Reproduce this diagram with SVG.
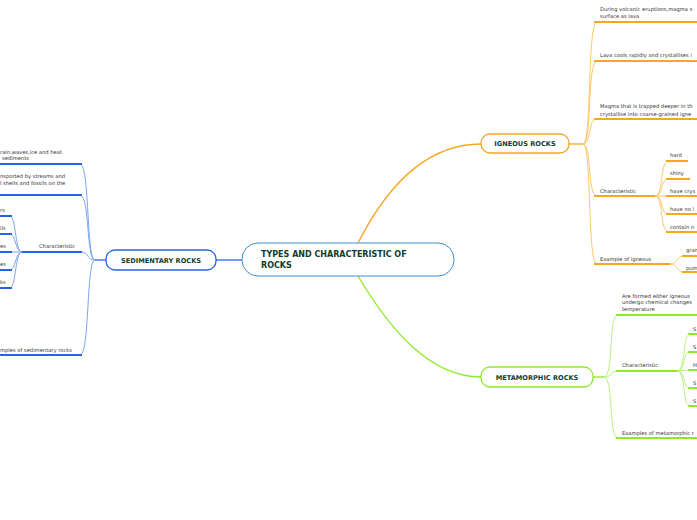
<svg xmlns="http://www.w3.org/2000/svg" width="697" height="520" viewBox="0 0 697 520">
<style>
text{font-family:"DejaVu Sans",Verdana,sans-serif;font-size:5.2px;fill:#333}
.t{font-size:8px;font-weight:bold;fill:#0b3d2e}
.c{font-size:6.6px;font-weight:bold;fill:#0b3d2e}
.o{stroke:#f5a623;fill:none;stroke-width:1.3}
.g{stroke:#8ee82e;fill:none;stroke-width:1.3}
.b{stroke:#2563eb;fill:none;stroke-width:1.3}
.ol{stroke:#f5a623;stroke-width:2}
.gl{stroke:#8ee82e;stroke-width:2}
.bl{stroke:#2563eb;stroke-width:2}
.oc{stroke:#fcc86a;fill:none;stroke-width:1}
.gc{stroke:#b8f27a;fill:none;stroke-width:1}
.bc{stroke:#7ea4f5;fill:none;stroke-width:1}
</style>
<g id="connectors">
<path class="o" d="M358,243 C390,180 430,144 481,144"/>
<path class="g" d="M358,276 C390,330 430,377 481,377"/>
<path class="b" d="M216,260 L242,260"/>
<path class="o" d="M569,144 L583,144"/>
<path class="oc" d="M583,144 C592,144 587,22 597,22 M583,144 C592,144 587,61 597,61 M583,144 C592,144 587,119 597,119 M583,144 C592,144 587,196 597,196 M583,144 C592,144 587,264 597,264"/>
<path class="oc" d="M655,196 C664,196 659,161 669,161 M655,196 C664,196 659,179 669,179 M655,196 L669,196 M655,196 C664,196 659,214 669,214 M655,196 C664,196 659,232 669,232 M670,264 C678,264 676,256 684,256 M670,264 C678,264 676,272 684,272"/>
<g class="ol"><path d="M594,22H697M594,61H697M594,119H697M594,196H655M594,264H670M666,161H688M666,179H690M666,196H697M666,214H697M666,232H697M682,256H697M682,272H697"/></g>
<path class="g" d="M593,377 L604,377"/>
<path class="gc" d="M604,377 C614,377 608,315 618,315 M604,377 C614,377 608,371 618,371 M604,377 C614,377 608,438 618,438"/>
<path class="gc" d="M677,371 C686,371 682,334 690,334 M677,371 C686,371 682,352 690,352 M677,371 L690,370 M677,371 C686,371 682,388 690,388 M677,371 C686,371 682,406 690,406"/>
<g class="gl"><path d="M616,315H697M616,371H677M616,438H697M688,334H697M688,352H697M688,370H697M688,388H697M688,406H697"/></g>
<path class="b" d="M106,260 L95,260"/>
<path class="bc" d="M95,260 C86,260 90,164 80,164 M95,260 C86,260 90,195 80,195 M95,260 C86,260 90,252 80,252 M95,260 C86,260 90,355 80,355"/>
<path class="bc" d="M22,252 C15,252 16,216 10,216 M22,252 C15,252 16,234 10,234 M22,252 L10,252 M22,252 C15,252 16,270 10,270 M22,252 C15,252 16,288 10,288"/>
<g class="bl"><path d="M0,164H82M0,195H82M22,252H82M0,355H82M0,216H12M0,234H12M0,252H12M0,270H12M0,288H12"/></g>
</g>
<g id="center"><rect x="242" y="243" width="212" height="33" rx="16" fill="#fff" stroke="#3b8fd6"/>
<text class="t" x="261" y="257">TYPES AND CHARACTERISTIC OF</text><text class="t" x="261" y="268">ROCKS</text></g>
<g id="igneous"><rect x="481" y="134" width="88" height="19" rx="9" fill="#fff" stroke="#f5a623" stroke-width="1.3"/><text class="c" x="525" y="146.3" text-anchor="middle">IGNEOUS ROCKS</text></g>
<g id="sedimentary"><rect x="106" y="250" width="110" height="20" rx="9" fill="#fff" stroke="#2563eb" stroke-width="1.3"/><text class="c" x="161" y="262.8" text-anchor="middle">SEDIMENTARY ROCKS</text></g>
<g id="metamorphic"><rect x="481" y="367" width="112" height="20" rx="9" fill="#fff" stroke="#8ee82e" stroke-width="1.3"/><text class="c" x="537" y="379.8" text-anchor="middle">METAMORPHIC ROCKS</text></g>
<g id="igneous-children">
<text x="600" y="11">During volcanic eruptions,magma s</text><text x="600" y="17.5">surface as lava</text>
<text x="600" y="57">Lava cools rapidly and crystallises i</text>
<text x="600" y="108">Magma that is trapped deeper in th</text><text x="600" y="116">crystallise into coarse-grained igne</text>
<text x="600" y="193">Characteristic</text>
<text x="670" y="157">hard</text><text x="670" y="175">shiny</text><text x="670" y="193">have crys</text><text x="670" y="211">have no l</text><text x="670" y="229">contain n</text>
<text x="600" y="261">Example of igneous</text><text x="686" y="252">gran</text><text x="686" y="270">pum</text>
</g>
<g id="metamorphic-children">
<text x="622" y="298">Are formed either igneous</text><text x="622" y="304">undergo chemical changes</text><text x="622" y="311">temperature</text>
<text x="622" y="367">Characteristic</text>
<text x="693" y="331">S</text><text x="693" y="349">S</text><text x="693" y="367">H</text><text x="693" y="385">S</text><text x="693" y="403">S</text>
<text x="622" y="435">Examples of metamorphic r</text>
</g>
<g id="sedimentary-children">
<text x="0" y="154">rain,waves,ice and heat</text><text x="2" y="160">sediments</text>
<text x="0" y="178">nsported by streams and</text><text x="0" y="185">l shells and fossils on the</text>
<text x="39" y="248">Characteristic</text>
<text x="0" y="212">rs</text><text x="0" y="230">ils</text><text x="0" y="248">es</text><text x="0" y="266">es</text><text x="0" y="284">ks</text>
<text x="0" y="352">mples of sedimentary rocks</text>
</g>
</svg>
